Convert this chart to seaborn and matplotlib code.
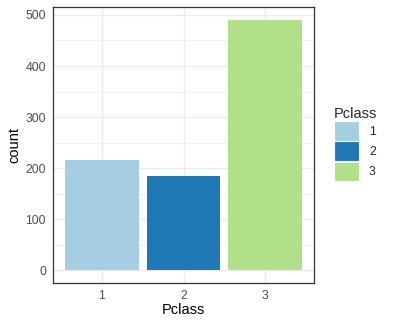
import matplotlib
matplotlib.use("Agg")
import matplotlib.pyplot as plt
from matplotlib.patches import Patch
from matplotlib.ticker import MultipleLocator
import pandas as pd
import seaborn as sns

# Data: passenger counts by class
pclass = ["1", "2", "3"]
counts = [216, 184, 491]
colors = ["#A6CEE3", "#1F78B4", "#B2DF8A"]

df = pd.DataFrame({"Pclass": pclass, "count": counts})

sns.set_style("white")
plt.rcParams["font.family"] = ["Liberation Sans", "DejaVu Sans"]

fig = plt.figure(figsize=(3.96, 3.28), dpi=100)
ax = fig.add_axes([0.1338, 0.1372, 0.6592, 0.8415])

sns.barplot(data=df, x="Pclass", y="count", hue="Pclass", palette=colors,
            width=0.9, legend=False, ax=ax, saturation=1, linewidth=0)

ax.set_xlim(-0.6, 2.6)
ymax = max(counts)
ax.set_ylim(-0.05 * ymax, ymax * 1.05)
ax.yaxis.set_major_locator(MultipleLocator(100))
ax.yaxis.set_minor_locator(MultipleLocator(50))
ax.set_axisbelow(True)
ax.grid(True, which="major", color="#EBEBEB", linewidth=1.0)
ax.grid(True, which="minor", axis="y", color="#EBEBEB", linewidth=0.5)

for s in ax.spines.values():
    s.set_color("#333333")
    s.set_linewidth(0.9)

ax.tick_params(axis="both", which="major", length=3, width=0.8, color="#333333",
               labelcolor="#4D4D4D", labelsize=8.8, pad=2)
ax.tick_params(axis="y", which="minor", length=0)
ax.set_xlabel("Pclass", fontsize=10.5, color="black", labelpad=1)
ax.set_ylabel("count", fontsize=10.5, color="black", labelpad=3)

handles = [Patch(facecolor=c, edgecolor="white", linewidth=0.8) for c in colors]
leg = fig.legend(handles, pclass, title="Pclass", loc="upper left",
                 bbox_to_anchor=(0.83, 0.69), frameon=False, fontsize=8.8,
                 title_fontsize=10.5, handlelength=2.1, handleheight=2.1,
                 handletextpad=0.8, labelspacing=0.05, borderaxespad=0)
leg._legend_box.align = "left"

fig.savefig("out.png", dpi=100)
